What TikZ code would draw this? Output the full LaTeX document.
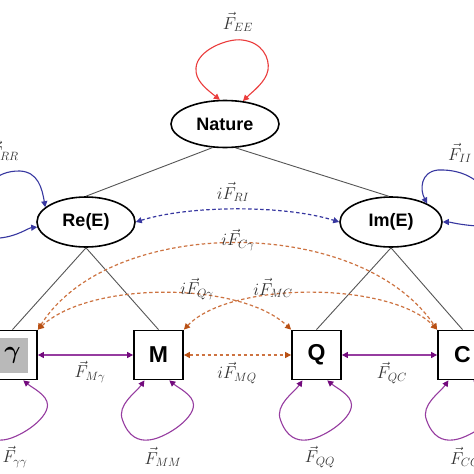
\documentclass[tikz,border=0pt]{standalone}
\usepackage{fontspec}
\usepackage{bm}
\setmainfont{Liberation Sans}
\usetikzlibrary{arrows.meta,shapes.geometric}
\definecolor{redl}{RGB}{235,60,60}
\definecolor{bluel}{RGB}{55,55,160}
\definecolor{oranl}{RGB}{205,115,65}
\definecolor{orant}{RGB}{185,80,20}
\definecolor{purl}{RGB}{150,60,160}
\definecolor{purt}{RGB}{115,10,125}
\definecolor{edgec}{RGB}{85,85,85}
\definecolor{labc}{RGB}{50,50,50}
\newcommand\boxloop[1]{\draw[purloop,shift={(#1.center)}] (#1.241) .. controls (-22,37) and (-42,50) .. (-36,65) .. controls (-30,82) and (-20,86) .. (-10,85) .. controls (5,84) and (35,65) .. (35,50) .. controls (35,40) and (20,33) .. (#1.293);}
\begin{document}
\begin{tikzpicture}[x=1pt,y=-1pt,
  ell/.style={ellipse,draw,line width=1.6pt,fill=white,inner sep=0pt,font=\fontsize{18}{18}\selectfont\bfseries},
  box/.style={rectangle,draw,line width=1.8pt,minimum size=49pt,inner sep=0pt,font=\fontsize{23}{23}\selectfont\bfseries},
  tree/.style={draw=edgec,line width=0.9pt},
  lab/.style={text=labc,font=\fontsize{17}{17}\selectfont,inner sep=0pt},
  redloop/.style={draw=redl,line width=1.1pt,{Triangle[length=6pt,width=6pt]}-{Triangle[length=6pt,width=6pt]}},
  blueloop/.style={draw=bluel,line width=1.1pt,{Triangle[length=6pt,width=6pt]}-{Triangle[length=6pt,width=6pt]}},
  bluedash/.style={draw=bluel,line width=1.2pt,dash pattern=on 3.5pt off 2.5pt,{Triangle[length=6pt,width=6pt]}-{Triangle[length=6pt,width=6pt]}},
  orandash/.style={draw=oranl,line width=1.2pt,dash pattern=on 3.5pt off 2.5pt,{Triangle[length=6pt,width=6pt,color=orant]}-{Triangle[length=6pt,width=6pt,color=orant]}},
  pursolid/.style={draw=purl,line width=1.2pt,{Triangle[length=6pt,width=6pt,color=purt]}-{Triangle[length=6pt,width=6pt,color=purt]}},
  purloop/.style={draw=purl,line width=1.1pt,{Triangle[length=6pt,width=6pt,color=purt]}-{Triangle[length=6pt,width=6pt,color=purt]}}
]
\useasboundingbox (0,0) rectangle (474,474);
\clip (0,0) rectangle (474,474);
\fill[white] (0,0) rectangle (474,474);

% nodes
\node[ell,minimum width=108pt,minimum height=47pt] (nature) at (225,124) {Nature};
\node[ell,minimum width=98pt,minimum height=50pt] (re) at (86,222) {Re(E)};
\node[ell,minimum width=102pt,minimum height=50pt] (im) at (391,222) {Im(E)};
\fill[gray!55] (-12,338) rectangle (28,373);
\node[box] (gam) at (12.5,355) {\fontsize{40}{40}\selectfont$\bm{\gamma}$};
\node[box] (m) at (158.5,355) {M};
\node[box] (q) at (316.5,355) {Q};
\node[box] (c) at (462.5,355) {C};

% tree lines
\draw[tree] (nature.242) -- (re.north);
\draw[tree] (nature.294) -- (im.95);
\draw[tree] (re.south) -- (gam.north);
\draw[tree] (re.south) -- (m.north);
\draw[tree] (im.south) -- (q.north);
\draw[tree] (im.south) -- (c.north);

% loops
\draw[redloop] (nature.102) .. controls (205,88) and (195,80) .. (196,68) .. controls (197,50) and (228,38) .. (242,40) .. controls (262,42) and (270,58) .. (268,70) .. controls (266,82) and (252,92) .. (nature.52);
\draw[blueloop] (re.160) .. controls (42,188) and (38,172) .. (20,171) .. controls (-30,170) and (-30,240) .. (0,238) .. controls (18,236) and (28,228) .. (re.186);
\draw[blueloop] (im.27) .. controls (420,190) and (420,172) .. (438,170) .. controls (495,168) and (505,228) .. (478,226) .. controls (460,225) and (450,222) .. (im.0);
\boxloop{gam}
\boxloop{m}
\boxloop{q}
\boxloop{c}

% connectors
\draw[bluedash] (re.east) .. controls (190,205) and (285,205) .. (im.west);
\draw[orandash] (gam.north east) .. controls (110,215) and (360,215) .. (c.north west);
\draw[orandash] (gam.north east) .. controls (90,281) and (240,281) .. (q.north west);
\draw[orandash] (m.north east) .. controls (230,281) and (390,281) .. (c.north west);
\draw[orandash] (m.east) -- (q.west);
\draw[pursolid] (gam.east) -- (m.west);
\draw[pursolid] (q.east) -- (c.west);

% labels
\node[lab] (lEE) at (238,22) {$\vec{F}_{EE}$};
\node[lab] (lRR) at (4,151) {$\vec{F}_{RR}$};
\node[lab] (lII) at (460,153) {$\vec{F}_{II}$};
\node[lab] (lRI) at (233,192) {$i\vec{F}_{RI}$};
\node[lab] (lCg) at (238,240) {$i\vec{F}_{C\gamma}$};
\node[lab] (lQg) at (197,289) {$i\vec{F}_{Q\gamma}$};
\node[lab] (lMC) at (273,288) {$i\vec{F}_{MC}$};
\node[lab] (lMg) at (90,372) {$\vec{F}_{M\gamma}$};
\node[lab] (lMQ) at (237,373) {$i\vec{F}_{MQ}$};
\node[lab] (lQC) at (392,373) {$\vec{F}_{QC}$};
\node[lab] (lgg) at (15,457) {$\vec{F}_{\gamma\gamma}$};
\node[lab] (lMM) at (163,457) {$\vec{F}_{MM}$};
\node[lab] (lQQ) at (320,457) {$\vec{F}_{QQ}$};
\node[lab] (lCC) at (465,457) {$\vec{F}_{CC}$};
\end{tikzpicture}
\end{document}
